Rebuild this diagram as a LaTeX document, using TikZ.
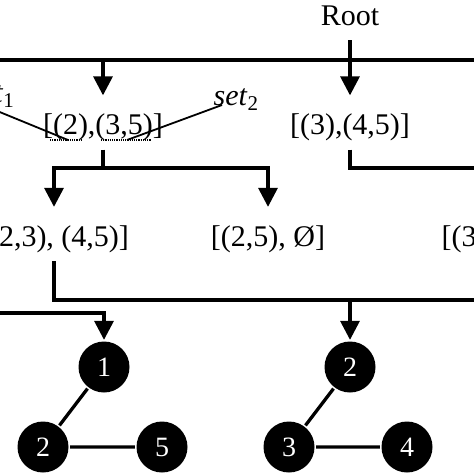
\documentclass[tikz,border=0pt]{standalone}
\usepackage{fontspec}
\setmainfont{Liberation Serif}
\usetikzlibrary{arrows.meta}

\begin{document}
\begin{tikzpicture}[x=1pt, y=-1pt, line width=3.3pt,
		arr/.style={-{Triangle[width=19pt,length=19pt]}},
		lbl/.style={font=\fontsize{30}{36}\selectfont, text height=24pt, text depth=0pt, inner ysep=13.5pt, inner xsep=0pt, anchor=base},
		vert/.style={circle, fill=black, text=white, minimum size=51pt, inner sep=0pt, font=\fontsize{28}{32}\selectfont},
		setline/.style={line width=1.8pt}]
			\clip (0,0) rectangle (474,474);
			
			%tree labels
			\node[lbl] (root) at (350,25){Root};
			\node[lbl] (l1) at (103,134.5){[(2),(3,5)]};
			\node[lbl] (r1) at (350,134.5){[(3),(4,5)]};
			\node[lbl] (l11) at (54,246){[(2,3), (4,5)]};
			\node[lbl] (l12) at (268,246){[(2,5), Ø]};
			\node[lbl, anchor=base west] (r11) at (440,246){[(3};
			
			%set marks
			\node[font=\fontsize{30}{36}\selectfont, anchor=base east, inner sep=0pt] (set1) at (16,102){\textit{set}\textsubscript{1}};
			\node[font=\fontsize{30}{36}\selectfont, anchor=base west, inner sep=0pt] (set2) at (212,105){\textit{set}\textsubscript{2}};
			\draw[densely dotted, line width=1.2pt] (50,140) -- (82,140);
			\draw[densely dotted, line width=1.2pt] (101,140) -- (151,140);
			\coordinate (u1) at (68,140);
			\coordinate (u2) at (127,140);
			\coordinate (s1) at (-15,106);
			\coordinate (s2) at (222,105);
			\draw[setline] (s1) -- (u1);
			\draw[setline] (s2) -- (u2);
			
			%graphs
			\node[vert] (a1) at (104,367){1};
			\node[vert] (a2) at (43,447){2};
			\node[vert] (a5) at (162,447){5};
			\node[vert] (b2) at (350,367){2};
			\node[vert] (b3) at (289,447){3};
			\node[vert] (b4) at (407,447){4};
			\draw (a1) -- (a2) -- (a5);
			\draw (b2) -- (b3) -- (b4);
			
			%connectors
			\coordinate (t0) at (-20,60);
			\coordinate (t1) at (500,60);
			\draw (t0) -- (t1);
			\draw[arr] (t0) -| (l1);
			\draw[arr] (root) -- (r1);
			
			\coordinate (b1) at (103,168);
			\coordinate (c2) at (500,168);
			\draw (l1) -- (b1);
			\draw[arr] (b1) -| (l11);
			\draw[arr] (b1) -| (l12);
			\draw (r1) |- (c2);
			
			\coordinate (c3) at (350,300);
			\coordinate (c3e) at (500,300);
			\coordinate (c4) at (-20,313);
			\draw (l11) |- (c3e);
			\draw[arr] (c3) -- (b2);
			\draw[arr] (c4) -| (a1);
		\end{tikzpicture}
\end{document}
